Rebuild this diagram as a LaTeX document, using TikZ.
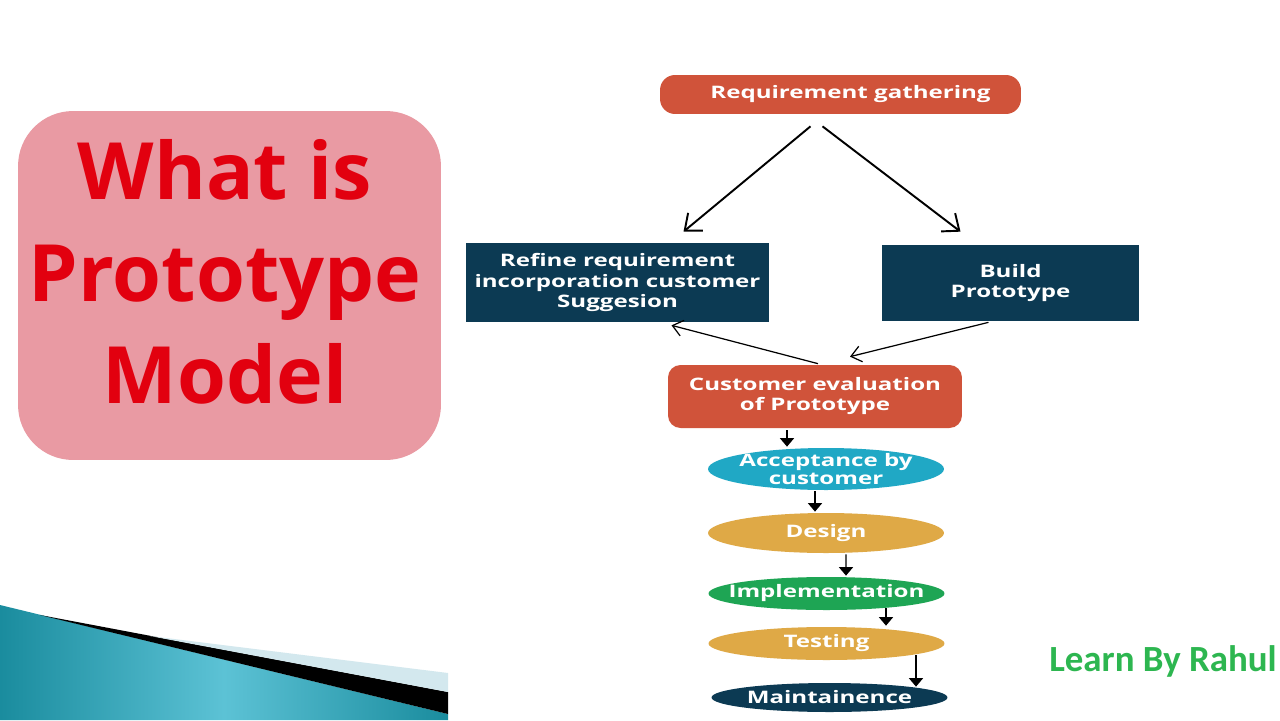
\documentclass[tikz,border=0pt]{standalone}
\usepackage{fontspec}
\setsansfont{Open Sans}
\newfontfamily\boxfont{Open Sans}[FakeStretch=1.4]
\newfontfamily\brandfont{Carlito}
\usepackage{tikz}
\usetikzlibrary{arrows.meta,positioning,calc,shapes.geometric}
\definecolor{titlepink}{HTML}{E99AA3}
\definecolor{titlered}{HTML}{E2000F}
\definecolor{flowred}{HTML}{D0533A}
\definecolor{flownavy}{HTML}{0C3A53}
\definecolor{accblue}{HTML}{20A8C5}
\definecolor{stagegold}{HTML}{DFA946}
\definecolor{stagegreen}{HTML}{1EA554}
\definecolor{bandteal}{HTML}{1A8C9E}
\definecolor{bandlight}{HTML}{5CC2D5}
\definecolor{bandpale}{HTML}{D3E8EE}
\definecolor{brandgreen}{HTML}{2DB650}

\begin{document}
\begin{tikzpicture}[x=0.02cm, y=-0.02cm, every node/.style={font=\sffamily},
  flowbox/.style={fill=#1, text=white, align=center, inner sep=0pt, font=\boxfont\bfseries\fontsize{9.8}{11.4}\selectfont},
  stage/.style={ellipse, fill=#1, minimum width=4.72cm, inner sep=0pt},
  stagetext/.style={text=white, align=center, font=\boxfont\bfseries\fontsize{9.8}{9.8}\selectfont},
  bigarrow/.style={-{Straight Barb[length=2.8mm,width=4.6mm]}, line width=1.1pt},
  backarrow/.style={-{Straight Barb[length=2mm,width=3.2mm]}, line width=0.7pt},
  downarrow/.style={-{Triangle[length=1.7mm,width=2.8mm]}, line width=0.8pt}]
  \fill[white] (0,0) rectangle (1280,720);
  \useasboundingbox (0,0) rectangle (1280,720);

  % title card
  \node[fill=titlepink, rounded corners=1.1cm, minimum width=8.46cm, minimum height=6.98cm] (titlebox) at (229.5,285.5) {};
  \node[font=\sffamily\bfseries\fontsize{45}{58}\selectfont, text=titlered, align=center] (titletext) at (225,272) {What is\\Prototype\\Model};

  % slide band, bottom left
  \shade[left color=bandteal, right color=bandteal, middle color=bandlight] (0,605) -- (448,714) -- (448,720) -- (0,720) -- cycle;
  \fill[black] (40,615) -- (448,692) -- (448,714) -- cycle;
  \fill[bandpale] (150,636) -- (448,673) -- (448,692) -- cycle;

  % flow
  \node[flowbox=flowred, rounded corners=0.3cm, minimum width=7.22cm, minimum height=0.78cm] (gather) at (840.5,94.5) {\hspace{0.4cm}Requirement gathering};
  \node[flowbox=flownavy, minimum width=6.06cm, minimum height=1.58cm] (refine) at (617.5,282.5) {Refine requirement\\incorporation customer\\Suggesion};
  \node[flowbox=flownavy, minimum width=5.14cm, minimum height=1.52cm] (build) at (1010.5,283) {Build\\Prototype};
  \node[flowbox=flowred, rounded corners=0.25cm, minimum width=5.88cm, minimum height=1.26cm] (evaluate) at (815,396.5) {Customer evaluation\\of Prototype};

  \node[stage=accblue, minimum height=0.84cm, label={[stagetext]center:Acceptance by\\customer}] (accept) at (826,469) {};
  \node[stage=stagegold, minimum height=0.8cm, label={[stagetext]center:Design}] (design) at (826,533) {};
  \node[stage=stagegreen, minimum height=0.66cm, label={[stagetext]center:Implementation}] (implement) at (826.5,593.5) {};
  \node[stage=stagegold, minimum height=0.66cm, label={[stagetext]center:Testing}] (testing) at (826.5,643.5) {};
  \node[stage=flownavy, minimum height=0.58cm, label={[stagetext]center:Maintainence}] (maintain) at (829.5,697.5) {};

  \draw[bigarrow] ($(gather.south)+(-30,12)$) -- ($(refine.north)+(66,-11)$);
  \draw[bigarrow] ($(gather.south)+(-18,12)$) -- ($(build.north)+(-50,-13)$);
  \draw[backarrow] ($(evaluate.north)+(3,-1)$) -- ($(refine.south)+(54,3)$);
  \draw[backarrow] ($(build.south)+(-22,1)$) -- ($(evaluate.north)+(35,-8)$);

  \draw[downarrow] ($(evaluate.south)+(-28,2)$) -- ($(accept.north)+(-39,-1)$);
  \draw[downarrow] ($(accept.south)+(-11,1)$) -- ($(design.north)+(-11,-1)$);
  \draw[downarrow] ($(design.south)+(20,1)$) -- ($(implement.north)+(19.5,-1)$);
  \draw[downarrow] ($(implement.south)+(59.5,-2)$) -- ($(testing.north)+(59.5,-1)$);
  \draw[downarrow] ($(testing.south)+(89.5,-5)$) -- ($(maintain.north)+(86.5,4)$);

  \node[font=\brandfont\bfseries\fontsize{21}{25}\selectfont, text=brandgreen, anchor=base] (brand) at (1163,671) {Learn By Rahul};
\end{tikzpicture}
\end{document}
